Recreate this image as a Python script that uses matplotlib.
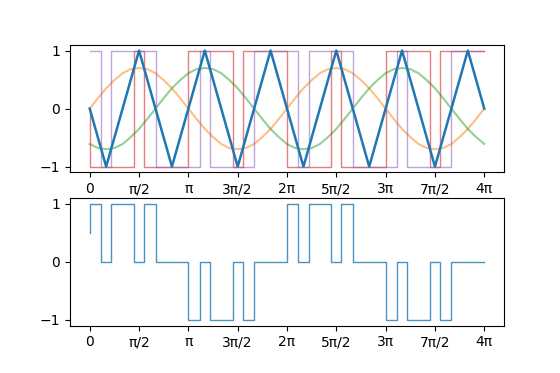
import numpy as np
import matplotlib
matplotlib.use("Agg")
import matplotlib.pyplot as plt

# x positions are in units of pi
tri_x = [0, 1/6, 1/2, 5/6, 7/6, 3/2, 11/6, 13/6, 5/2, 17/6, 19/6, 7/2, 23/6, 4]
tri_y = [0, -1, 1, -1, 1, -1, 1, -1, 1, -1, 1, -1, 1, 0]

wave_x = [k / 12 for k in range(49)]
orange_y = [0, 0.18, 0.35, 0.49, 0.61, 0.68, 0.70, 0.68, 0.61, 0.49, 0.35, 0.18,
            0, -0.18, -0.35, -0.49, -0.61, -0.68, -0.70, -0.68, -0.61, -0.49, -0.35, -0.18,
            0, 0.18, 0.35, 0.49, 0.61, 0.68, 0.70, 0.68, 0.61, 0.49, 0.35, 0.18,
            0, -0.18, -0.35, -0.49, -0.61, -0.68, -0.70, -0.68, -0.61, -0.49, -0.35, -0.18, 0]
green_y = [-0.61, -0.68, -0.70, -0.68, -0.61, -0.49, -0.35, -0.18,
           0, 0.18, 0.35, 0.49, 0.61, 0.68, 0.70, 0.68, 0.61, 0.49, 0.35, 0.18,
           0, -0.18, -0.35, -0.49, -0.61, -0.68, -0.70, -0.68, -0.61, -0.49, -0.35, -0.18,
           0, 0.18, 0.35, 0.49, 0.61, 0.68, 0.70, 0.68, 0.61, 0.49, 0.35, 0.18,
           0, -0.18, -0.35, -0.49, -0.61]

red_x = [0, 0, 0.448, 0.552, 1, 1.448, 1.552, 2, 2.448, 2.552, 3, 3.448, 3.552, 4]
red_y = [0, -1, 1, -1, 1, -1, 1, -1, 1, -1, 1, -1, 1, 1]

purple_x = [0, 0.115, 0.218, 0.667, 1.115, 1.218, 1.667, 2.115, 2.218, 2.667,
            3.115, 3.218, 3.667, 4]
purple_y = [1, -1, 1, -1, 1, -1, 1, -1, 1, -1, 1, -1, 1, 1]

diff_x = [0, 0, 0.115, 0.218, 0.448, 0.552, 0.667, 1, 1.115, 1.218, 1.448, 1.552, 1.667,
          2, 2.115, 2.218, 2.448, 2.552, 2.667, 3, 3.115, 3.218, 3.448, 3.552, 3.667, 4]
diff_y = [0.5, 1, 0, 1, 0, 1, 0, -1, 0, -1, 0, -1, 0,
          1, 0, 1, 0, 1, 0, -1, 0, -1, 0, -1, 0, 0]

tick_pos = [0, 0.5, 1, 1.5, 2, 2.5, 3, 3.5, 4]
tick_labels = ["0", "π/2", "π", "3π/2", "2π", "5π/2", "3π", "7π/2", "4π"]

P = np.pi
fig, (ax1, ax2) = plt.subplots(2, 1, figsize=(5.6, 3.73), dpi=100)
fig.subplots_adjust(left=0.125, right=0.9, top=0.88, bottom=0.127, hspace=0.2)

ax1.plot(np.array(wave_x) * P, orange_y, color="#ff7f0e", lw=1.5, alpha=0.5)
ax1.plot(np.array(wave_x) * P, green_y, color="#2ca02c", lw=1.5, alpha=0.5)
ax1.step(np.array(red_x) * P, red_y, where="post", color="#d62728", lw=1, alpha=0.6)
ax1.step(np.array(purple_x) * P, purple_y, where="post", color="#9467bd", lw=1, alpha=0.6)
ax1.plot(np.array(tri_x) * P, tri_y, color="#1f77b4", lw=1.8)

ax2.step(np.array(diff_x) * P, diff_y, where="post", color="#1f77b4", lw=1, alpha=0.8)

for ax in (ax1, ax2):
    ax.set_xticks(np.array(tick_pos) * P)
    ax.set_xticklabels(tick_labels)
    ax.set_yticks([-1, 0, 1])

fig.savefig("out.png")
